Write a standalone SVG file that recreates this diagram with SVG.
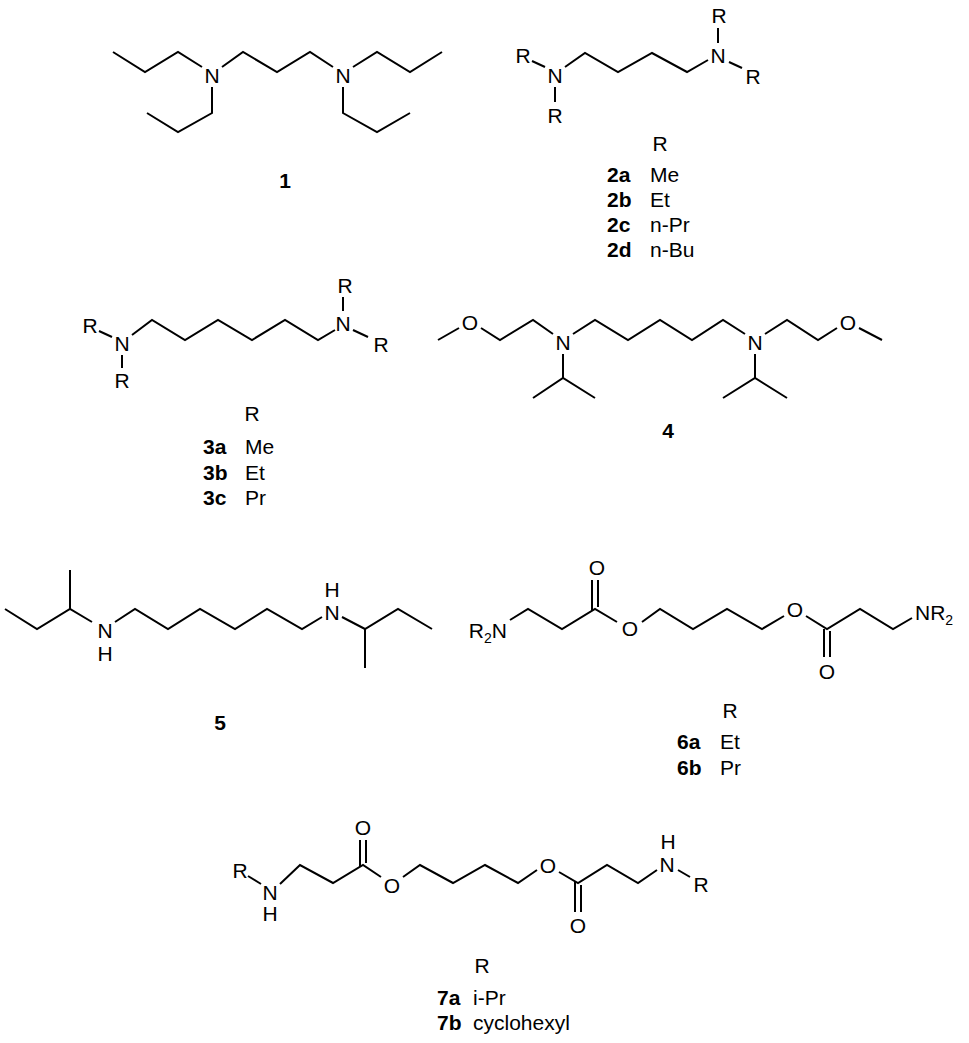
<svg xmlns="http://www.w3.org/2000/svg" width="969" height="1043" viewBox="0 0 969 1043">
<style>
.b{fill:none;stroke:#000;stroke-width:2;stroke-linejoin:miter}
.a{font-family:"Liberation Sans",Arial,sans-serif;font-size:21px;text-anchor:middle;dominant-baseline:central}
.t{font-family:"Liberation Sans",Arial,sans-serif;font-size:21px}
.bd{font-weight:bold}
</style>
<rect width="969" height="1043" fill="#fff"/>
<g id="c1">
<polyline class="b" points="113,52 145,72 178,52 202,67"/>
<polyline class="b" points="222,67 243,52 277,72 310,52 333,67"/>
<polyline class="b" points="353,67 377,52 410,72 442,52"/>
<polyline class="b" points="212,87 212,113 178,132 147,113"/>
<polyline class="b" points="343,87 343,113 377,132 410,113"/>
<text class="a" x="212" y="75">N</text><text class="a" x="343" y="75">N</text>
<text class="t bd" x="285" y="188" text-anchor="middle">1</text>
</g>
<g id="c2">
<line class="b" x1="532" y1="61" x2="545" y2="67"/>
<line class="b" x1="555" y1="87" x2="555" y2="102"/>
<polyline class="b" points="565,67 585,53 618,72 652,53 687,72 708,60"/>
<line class="b" x1="718" y1="43" x2="718" y2="28"/>
<line class="b" x1="729" y1="62" x2="742" y2="68"/>
<text class="a" x="523" y="55">R</text><text class="a" x="555" y="75">N</text><text class="a" x="555" y="115">R</text>
<text class="a" x="718" y="55">N</text><text class="a" x="719" y="15">R</text><text class="a" x="753" y="76">R</text>
<text class="a" x="660" y="143">R</text>
<text class="t" y="182"><tspan class="bd" x="607">2a</tspan><tspan x="650">Me</tspan></text>
<text class="t" y="207"><tspan class="bd" x="607">2b</tspan><tspan x="650">Et</tspan></text>
<text class="t" y="232"><tspan class="bd" x="607">2c</tspan><tspan x="650">n-Pr</tspan></text>
<text class="t" y="257"><tspan class="bd" x="607">2d</tspan><tspan x="650">n-Bu</tspan></text>
</g>
<g id="c3">
<line class="b" x1="99" y1="331" x2="112" y2="337"/>
<line class="b" x1="122" y1="355" x2="122" y2="368"/>
<polyline class="b" points="132,335 152,320 185,340 218,320 252,340 285,320 318,340 335,330"/>
<line class="b" x1="343" y1="311" x2="343" y2="297"/>
<line class="b" x1="353" y1="330" x2="368" y2="337"/>
<text class="a" x="90" y="325">R</text><text class="a" x="122" y="343">N</text><text class="a" x="122" y="380">R</text>
<text class="a" x="343" y="323">N</text><text class="a" x="345" y="285">R</text><text class="a" x="381" y="344">R</text>
<text class="a" x="252" y="413">R</text>
<text class="t" y="454"><tspan class="bd" x="203">3a</tspan><tspan x="245">Me</tspan></text>
<text class="t" y="480"><tspan class="bd" x="203">3b</tspan><tspan x="245">Et</tspan></text>
<text class="t" y="505"><tspan class="bd" x="203">3c</tspan><tspan x="245">Pr</tspan></text>
</g>
<g id="c4">
<polyline class="b" points="438,340 459,328"/>
<polyline class="b" points="481,328 500,340 533,320 553,334"/>
<polyline class="b" points="573,334 595,320 628,340 660,320 692,340 723,320 745,334"/>
<polyline class="b" points="765,334 787,320 818,340 837,328"/>
<polyline class="b" points="859,328 882,340"/>
<line class="b" x1="563" y1="354" x2="563" y2="378"/>
<polyline class="b" points="533,398 563,378 595,398"/>
<line class="b" x1="755" y1="354" x2="755" y2="378"/>
<polyline class="b" points="723,398 755,378 787,398"/>
<text class="a" x="470" y="322">O</text><text class="a" x="563" y="342">N</text>
<text class="a" x="755" y="342">N</text><text class="a" x="848" y="322">O</text>
<text class="t bd" x="668" y="438" text-anchor="middle">4</text>
</g>
<g id="c5">
<polyline class="b" points="5,609 37,629 70,609 92,622"/>
<line class="b" x1="70" y1="609" x2="70" y2="570"/>
<polyline class="b" points="115,622 135,609 168,629 200,609 235,629 267,609 302,629 322,617"/>
<polyline class="b" points="342,617 365,629 398,609 432,629"/>
<line class="b" x1="365" y1="629" x2="365" y2="668"/>
<text class="a" x="105" y="630">N</text><text class="a" x="105" y="653">H</text>
<text class="a" x="332" y="612">N</text><text class="a" x="332" y="589">H</text>
<text class="t bd" x="220" y="730" text-anchor="middle">5</text>
</g>
<g id="c6">
<polyline class="b" points="510,620 528,609 562,629 595,609 617,622"/>
<polyline class="b" points="642,622 660,609 693,629 727,609 762,629 784,616"/>
<polyline class="b" points="806,616 827,629 860,609 893,629 912,618"/>
<line class="b" x1="592" y1="611" x2="592" y2="580"/><line class="b" x1="598" y1="607" x2="598" y2="580"/>
<line class="b" x1="824" y1="629" x2="824" y2="657"/><line class="b" x1="830" y1="631" x2="830" y2="657"/>
<text class="a" x="597" y="567">O</text><text class="a" x="630" y="628">O</text>
<text class="a" x="795" y="609">O</text><text class="a" x="827" y="671">O</text>
<text class="t" x="507" y="638" text-anchor="end">R<tspan font-size="14" dy="5">2</tspan><tspan dy="-5">N</tspan></text>
<text class="t" x="915" y="620">NR<tspan font-size="14" dy="5">2</tspan></text>
<text class="a" x="730" y="710">R</text>
<text class="t" y="749"><tspan class="bd" x="677">6a</tspan><tspan x="720">Et</tspan></text>
<text class="t" y="775"><tspan class="bd" x="677">6b</tspan><tspan x="720">Pr</tspan></text>
</g>
<g id="c7">
<line class="b" x1="248" y1="876" x2="261" y2="884"/>
<polyline class="b" points="280,884 300,865 333,883 363,865 381,877"/>
<polyline class="b" points="403,877 420,865 453,883 485,865 518,883 537,870"/>
<polyline class="b" points="559,872 578,883 607,865 638,883 657,870"/>
<line class="b" x1="678" y1="870" x2="690" y2="877"/>
<line class="b" x1="360" y1="867" x2="360" y2="840"/><line class="b" x1="366" y1="863" x2="366" y2="840"/>
<line class="b" x1="575" y1="881" x2="575" y2="912"/><line class="b" x1="581" y1="885" x2="581" y2="912"/>
<text class="a" x="240" y="870">R</text><text class="a" x="270" y="892">N</text><text class="a" x="270" y="913">H</text>
<text class="a" x="363" y="827">O</text><text class="a" x="392" y="885">O</text>
<text class="a" x="548" y="865">O</text><text class="a" x="578" y="925">O</text>
<text class="a" x="667" y="864">N</text><text class="a" x="668" y="841">H</text><text class="a" x="701" y="884">R</text>
<text class="a" x="482" y="965">R</text>
<text class="t" y="1005"><tspan class="bd" x="437">7a</tspan><tspan x="473">i-Pr</tspan></text>
<text class="t" y="1030"><tspan class="bd" x="437">7b</tspan><tspan x="473">cyclohexyl</tspan></text>
</g>
</svg>
